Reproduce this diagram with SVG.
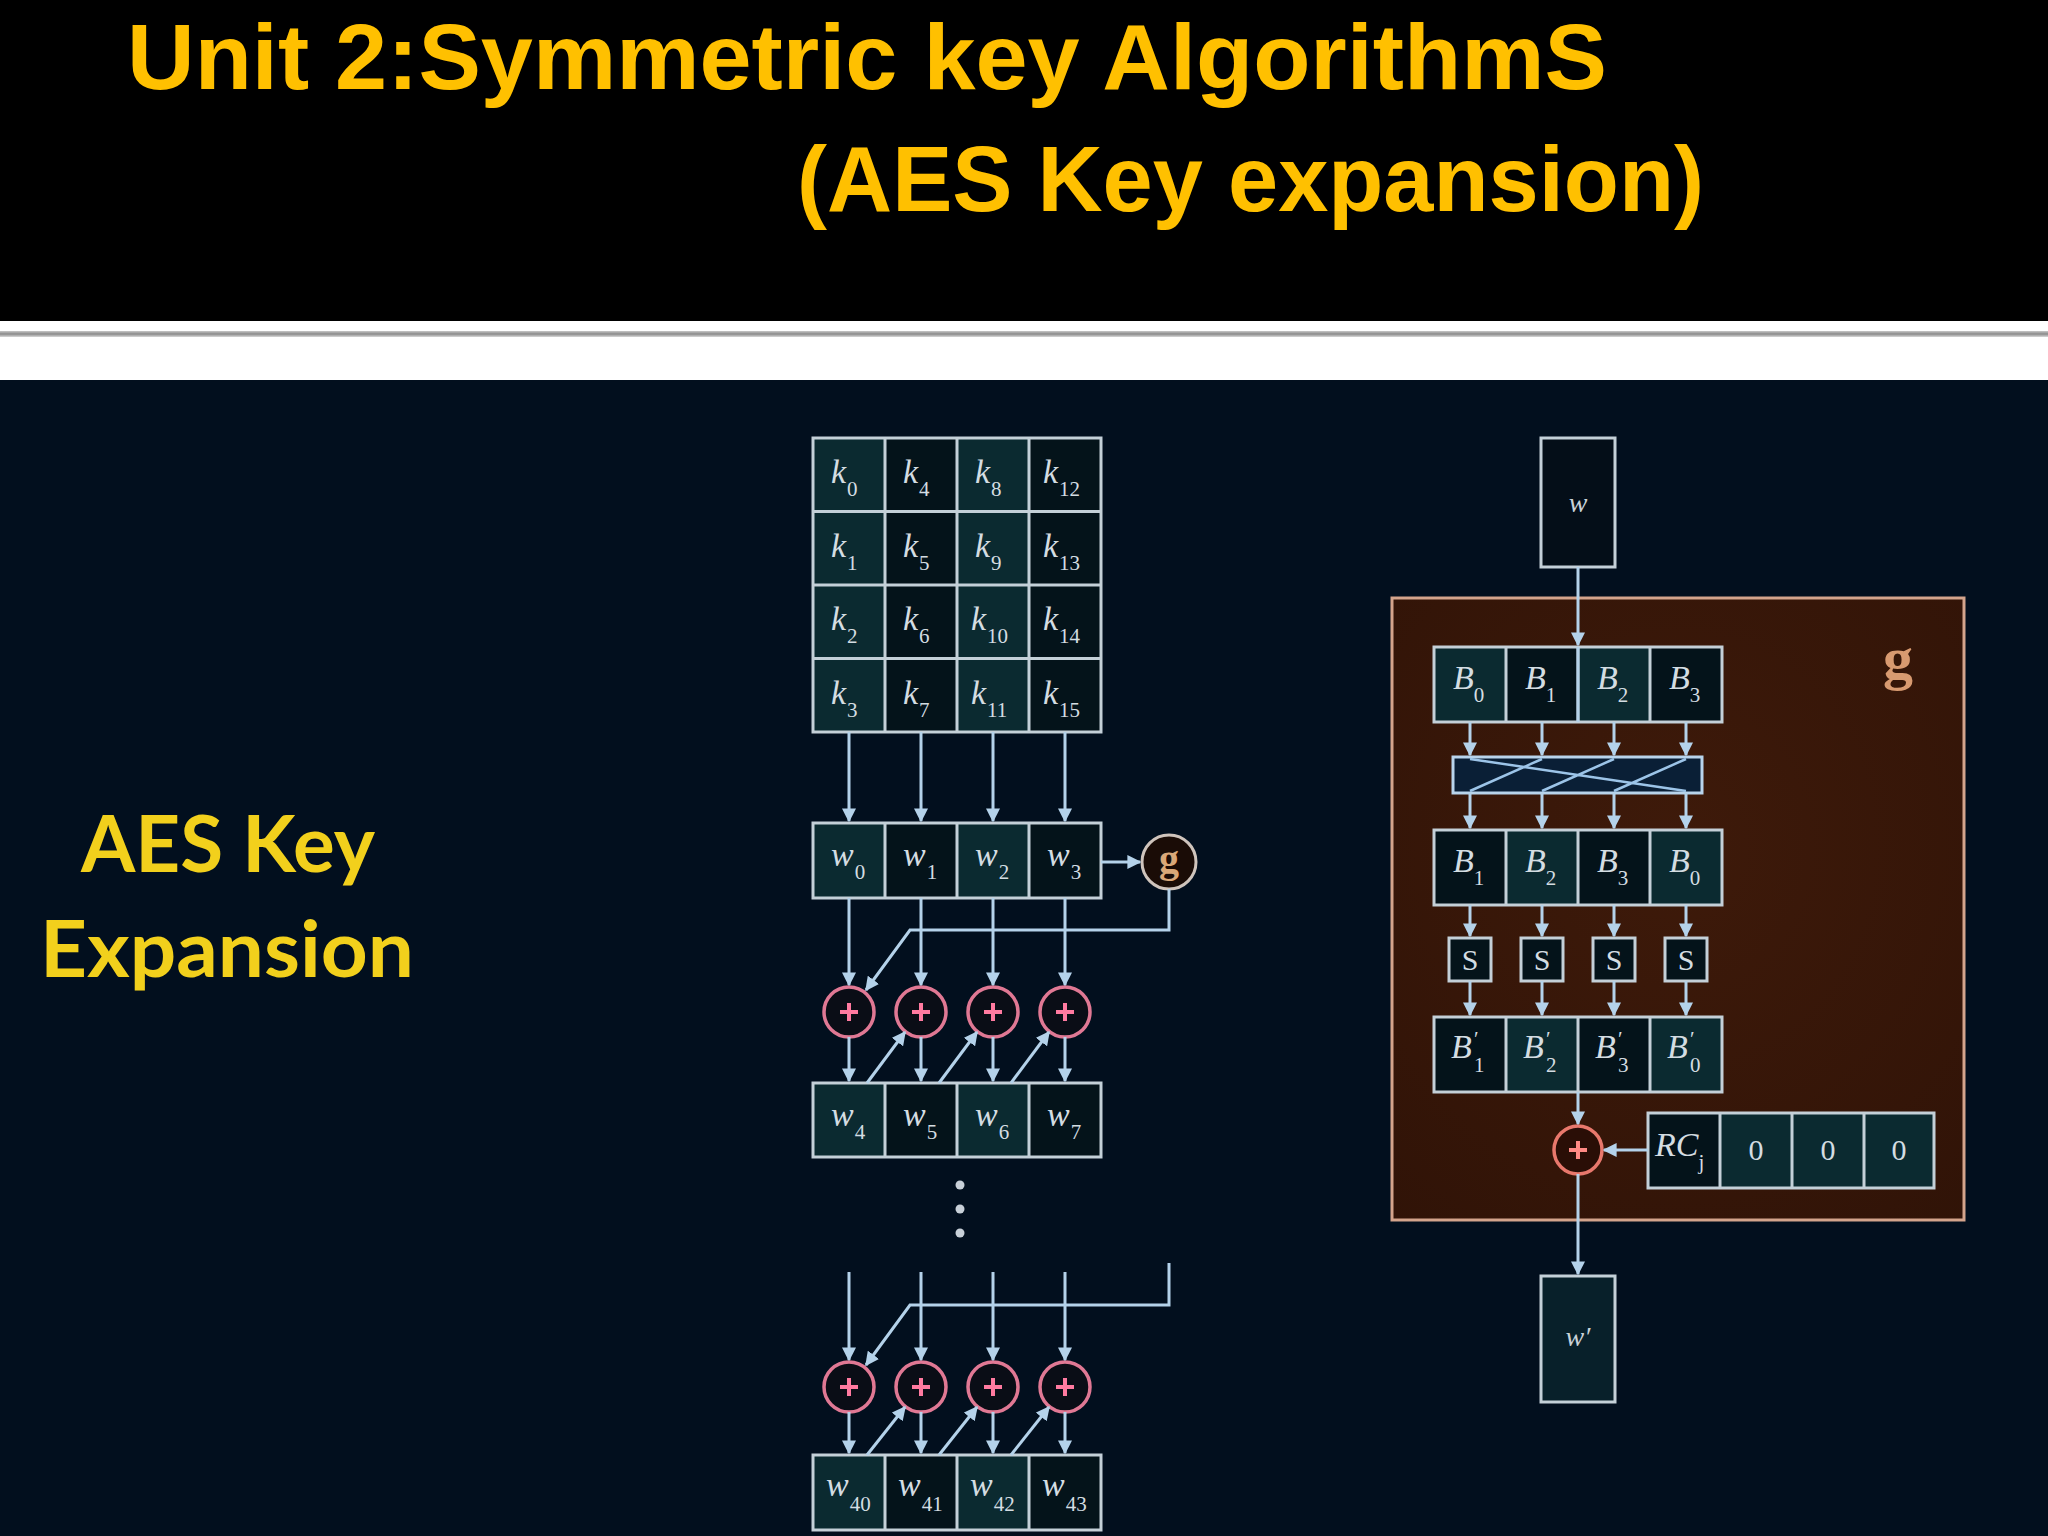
<svg xmlns="http://www.w3.org/2000/svg" width="2048" height="1536" viewBox="0 0 2048 1536">
<defs>
<marker id="arr" viewBox="0 0 10 10" refX="9" refY="5" markerWidth="14" markerHeight="14" markerUnits="userSpaceOnUse" orient="auto">
<path d="M0,0 L10,5 L0,10 z" fill="#b4d2ea"/>
</marker>
<linearGradient id="rule" x1="0" y1="0" x2="0" y2="1">
<stop offset="0" stop-color="#c8c8c8"/><stop offset="0.5" stop-color="#8a8a8a"/><stop offset="1" stop-color="#d8d8d8"/>
</linearGradient>
<radialGradient id="gbg" cx="0.5" cy="0.4" r="0.8">
<stop offset="0" stop-color="#3e1a0a"/><stop offset="1" stop-color="#301307"/>
</radialGradient>
</defs>
<style>
.title{font-family:"Liberation Sans",Arial,sans-serif;font-weight:bold;font-size:93px;fill:#ffc000}
.side{font-family:Lato,"Open Sans",sans-serif;font-weight:bold;font-size:78px;fill:#f2d01c}
.cl{stroke:#c4d0d8;stroke-width:3;fill:none}
.teal{fill:#0b2a30}
.dark{fill:#04131a}
.m{font-family:"Liberation Serif",serif;font-style:italic;font-size:34px;fill:#d4dde2}
.s{font-family:"Liberation Serif",serif;font-style:normal;font-size:21px;fill:#d4dde2}
.u{font-family:"Liberation Serif",serif;font-size:30px;fill:#d4dde2}
.ln{stroke:#b4d2ea;stroke-width:3;fill:none}
.ar{stroke:#b4d2ea;stroke-width:3;fill:none;marker-end:url(#arr)}
.xor{fill:#0a0d16;stroke:#e07894;stroke-width:3.5}
.plus{stroke:#ff7aa0;stroke-width:4}
</style>

<!-- background -->
<rect x="0" y="0" width="2048" height="1536" fill="#020f1e"/>
<rect x="0" y="0" width="2048" height="321" fill="#000000"/>
<rect x="0" y="321" width="2048" height="59" fill="#ffffff"/>
<rect x="0" y="331" width="2048" height="6" fill="url(#rule)"/>

<g id="title">
<text class="title" x="127" y="89" textLength="1480" lengthAdjust="spacingAndGlyphs">Unit 2:Symmetric key AlgorithmS</text>
<text class="title" x="797" y="211" textLength="907" lengthAdjust="spacingAndGlyphs">(AES Key expansion)</text>
</g>

<g id="side-label">
<text class="side" x="81" y="872" textLength="294" lengthAdjust="spacingAndGlyphs">AES Key</text>
<text class="side" x="40" y="977" textLength="374" lengthAdjust="spacingAndGlyphs">Expansion</text>
</g>

<!-- key matrix -->
<g id="key-matrix">
<rect class="teal" x="813" y="438" width="72" height="294"/>
<rect class="dark" x="885" y="438" width="72" height="294"/>
<rect class="teal" x="957" y="438" width="72" height="294"/>
<rect class="dark" x="1029" y="438" width="72" height="294"/>
<rect class="cl" x="813" y="438" width="288" height="294"/>
<path class="cl" d="M885,438V732M957,438V732M1029,438V732M813,511.5H1101M813,585H1101M813,658.5H1101"/>
<text class="m" x="831" y="483">k<tspan class="s" dx="1" dy="13">0</tspan></text>
<text class="m" x="903" y="483">k<tspan class="s" dx="1" dy="13">4</tspan></text>
<text class="m" x="975" y="483">k<tspan class="s" dx="1" dy="13">8</tspan></text>
<text class="m" x="1043" y="483">k<tspan class="s" dx="1" dy="13">12</tspan></text>
<text class="m" x="831" y="556.5">k<tspan class="s" dx="1" dy="13">1</tspan></text>
<text class="m" x="903" y="556.5">k<tspan class="s" dx="1" dy="13">5</tspan></text>
<text class="m" x="975" y="556.5">k<tspan class="s" dx="1" dy="13">9</tspan></text>
<text class="m" x="1043" y="556.5">k<tspan class="s" dx="1" dy="13">13</tspan></text>
<text class="m" x="831" y="630">k<tspan class="s" dx="1" dy="13">2</tspan></text>
<text class="m" x="903" y="630">k<tspan class="s" dx="1" dy="13">6</tspan></text>
<text class="m" x="971" y="630">k<tspan class="s" dx="1" dy="13">10</tspan></text>
<text class="m" x="1043" y="630">k<tspan class="s" dx="1" dy="13">14</tspan></text>
<text class="m" x="831" y="703.5">k<tspan class="s" dx="1" dy="13">3</tspan></text>
<text class="m" x="903" y="703.5">k<tspan class="s" dx="1" dy="13">7</tspan></text>
<text class="m" x="971" y="703.5">k<tspan class="s" dx="1" dy="13">11</tspan></text>
<text class="m" x="1043" y="703.5">k<tspan class="s" dx="1" dy="13">15</tspan></text>
</g>

<!-- w0..w3 -->
<g id="w-row-0">
<rect class="teal" x="813" y="823" width="72" height="75"/>
<rect class="dark" x="885" y="823" width="72" height="75"/>
<rect class="teal" x="957" y="823" width="72" height="75"/>
<rect class="dark" x="1029" y="823" width="72" height="75"/>
<rect class="cl" x="813" y="823" width="288" height="75"/>
<path class="cl" d="M885,823V898M957,823V898M1029,823V898"/>
<text class="m" x="831" y="866">w<tspan class="s" dx="1" dy="13">0</tspan></text>
<text class="m" x="903" y="866">w<tspan class="s" dx="1" dy="13">1</tspan></text>
<text class="m" x="975" y="866">w<tspan class="s" dx="1" dy="13">2</tspan></text>
<text class="m" x="1047" y="866">w<tspan class="s" dx="1" dy="13">3</tspan></text>
</g>

<g id="g-func-circle">
<circle cx="1169" cy="862" r="27" fill="#1a0c06" stroke="#cfc4bc" stroke-width="3"/>
<text x="1169" y="872" text-anchor="middle" font-family="Liberation Serif,serif" font-weight="bold" font-size="40" fill="#d9a878">g</text>
</g>

<g id="xor-row-1">
<circle class="xor" cx="849" cy="1012" r="25"/><path class="plus" d="M840,1012H858M849,1003V1021"/>
<circle class="xor" cx="921" cy="1012" r="25"/><path class="plus" d="M912,1012H930M921,1003V1021"/>
<circle class="xor" cx="993" cy="1012" r="25"/><path class="plus" d="M984,1012H1002M993,1003V1021"/>
<circle class="xor" cx="1065" cy="1012" r="25"/><path class="plus" d="M1056,1012H1074M1065,1003V1021"/>
</g>

<g id="w-row-1">
<rect class="teal" x="813" y="1083" width="72" height="74"/>
<rect class="dark" x="885" y="1083" width="72" height="74"/>
<rect class="teal" x="957" y="1083" width="72" height="74"/>
<rect class="dark" x="1029" y="1083" width="72" height="74"/>
<rect class="cl" x="813" y="1083" width="288" height="74"/>
<path class="cl" d="M885,1083V1157M957,1083V1157M1029,1083V1157"/>
<text class="m" x="831" y="1126">w<tspan class="s" dx="1" dy="13">4</tspan></text>
<text class="m" x="903" y="1126">w<tspan class="s" dx="1" dy="13">5</tspan></text>
<text class="m" x="975" y="1126">w<tspan class="s" dx="1" dy="13">6</tspan></text>
<text class="m" x="1047" y="1126">w<tspan class="s" dx="1" dy="13">7</tspan></text>
</g>

<g id="ellipsis" fill="#c8d0d8">
<circle cx="960" cy="1185" r="4.5"/><circle cx="960" cy="1209" r="4.5"/><circle cx="960" cy="1233" r="4.5"/>
</g>

<g id="xor-row-10">
<circle class="xor" cx="849" cy="1387" r="25"/><path class="plus" d="M840,1387H858M849,1378V1396"/>
<circle class="xor" cx="921" cy="1387" r="25"/><path class="plus" d="M912,1387H930M921,1378V1396"/>
<circle class="xor" cx="993" cy="1387" r="25"/><path class="plus" d="M984,1387H1002M993,1378V1396"/>
<circle class="xor" cx="1065" cy="1387" r="25"/><path class="plus" d="M1056,1387H1074M1065,1378V1396"/>
</g>

<g id="w-row-10">
<rect class="teal" x="813" y="1455" width="72" height="75"/>
<rect class="dark" x="885" y="1455" width="72" height="75"/>
<rect class="teal" x="957" y="1455" width="72" height="75"/>
<rect class="dark" x="1029" y="1455" width="72" height="75"/>
<rect class="cl" x="813" y="1455" width="288" height="75"/>
<path class="cl" d="M885,1455V1530M957,1455V1530M1029,1455V1530"/>
<text class="m" x="826" y="1496">w<tspan class="s" dx="1" dy="15">40</tspan></text>
<text class="m" x="898" y="1496">w<tspan class="s" dx="1" dy="15">41</tspan></text>
<text class="m" x="970" y="1496">w<tspan class="s" dx="1" dy="15">42</tspan></text>
<text class="m" x="1042" y="1496">w<tspan class="s" dx="1" dy="15">43</tspan></text>
</g>

<!-- right: g function -->
<g id="w-input">
<rect x="1541" y="438" width="74" height="129" fill="#040e18" stroke="#c4d0d8" stroke-width="3"/>
<text x="1578" y="512" text-anchor="middle" font-family="Liberation Serif,serif" font-style="italic" font-size="28" fill="#c8d2d8">w</text>
</g>

<g id="g-box">
<rect x="1392" y="598" width="572" height="622" fill="url(#gbg)" stroke="#d4a48c" stroke-width="3"/>
<text x="1898" y="678" text-anchor="middle" font-family="Liberation Serif,serif" font-weight="bold" font-size="60" fill="#d89a70">g</text>
</g>

<g id="b-row">
<rect class="teal" x="1434" y="647" width="72" height="75"/>
<rect class="dark" x="1506" y="647" width="72" height="75"/>
<rect class="teal" x="1578" y="647" width="72" height="75"/>
<rect class="dark" x="1650" y="647" width="72" height="75"/>
<rect class="cl" x="1434" y="647" width="288" height="75"/>
<path class="cl" d="M1506,647V722M1578,647V722M1650,647V722"/>
<text class="m" x="1453" y="689">B<tspan class="s" dx="0" dy="13">0</tspan></text>
<text class="m" x="1525" y="689">B<tspan class="s" dx="0" dy="13">1</tspan></text>
<text class="m" x="1597" y="689">B<tspan class="s" dx="0" dy="13">2</tspan></text>
<text class="m" x="1669" y="689">B<tspan class="s" dx="0" dy="13">3</tspan></text>
</g>

<g id="rotate-box">
<rect x="1453" y="757" width="249" height="36" fill="#0a1f36" stroke="#b8d4ec" stroke-width="3"/>
<path d="M1470,759L1686,791M1542,759L1470,791M1614,759L1542,791M1686,759L1614,791" stroke="#9cc4e8" stroke-width="2.5" fill="none"/>
</g>

<g id="b-row-rotated">
<rect class="dark" x="1434" y="830" width="72" height="75"/>
<rect class="teal" x="1506" y="830" width="72" height="75"/>
<rect class="dark" x="1578" y="830" width="72" height="75"/>
<rect class="teal" x="1650" y="830" width="72" height="75"/>
<rect class="cl" x="1434" y="830" width="288" height="75"/>
<path class="cl" d="M1506,830V905M1578,830V905M1650,830V905"/>
<text class="m" x="1453" y="872">B<tspan class="s" dx="0" dy="13">1</tspan></text>
<text class="m" x="1525" y="872">B<tspan class="s" dx="0" dy="13">2</tspan></text>
<text class="m" x="1597" y="872">B<tspan class="s" dx="0" dy="13">3</tspan></text>
<text class="m" x="1669" y="872">B<tspan class="s" dx="0" dy="13">0</tspan></text>
</g>

<g id="s-boxes">
<rect class="dark" x="1449" y="938" width="42" height="43" stroke="#c4d0d8" stroke-width="3"/>
<rect class="dark" x="1521" y="938" width="42" height="43" stroke="#c4d0d8" stroke-width="3"/>
<rect class="dark" x="1593" y="938" width="42" height="43" stroke="#c4d0d8" stroke-width="3"/>
<rect class="dark" x="1665" y="938" width="42" height="43" stroke="#c4d0d8" stroke-width="3"/>
<text class="u" x="1470" y="970" text-anchor="middle">S</text>
<text class="u" x="1542" y="970" text-anchor="middle">S</text>
<text class="u" x="1614" y="970" text-anchor="middle">S</text>
<text class="u" x="1686" y="970" text-anchor="middle">S</text>
</g>

<g id="b-prime-row">
<rect class="dark" x="1434" y="1017" width="72" height="75"/>
<rect class="teal" x="1506" y="1017" width="72" height="75"/>
<rect class="dark" x="1578" y="1017" width="72" height="75"/>
<rect class="teal" x="1650" y="1017" width="72" height="75"/>
<rect class="cl" x="1434" y="1017" width="288" height="75"/>
<path class="cl" d="M1506,1017V1092M1578,1017V1092M1650,1017V1092"/>
<text class="m" x="1451" y="1058">B</text><text class="s" x="1474" y="1046">′</text><text class="s" x="1474" y="1072">1</text>
<text class="m" x="1523" y="1058">B</text><text class="s" x="1546" y="1046">′</text><text class="s" x="1546" y="1072">2</text>
<text class="m" x="1595" y="1058">B</text><text class="s" x="1618" y="1046">′</text><text class="s" x="1618" y="1072">3</text>
<text class="m" x="1667" y="1058">B</text><text class="s" x="1690" y="1046">′</text><text class="s" x="1690" y="1072">0</text>
</g>

<g id="g-xor">
<circle cx="1578" cy="1150" r="24" fill="#2a0e06" stroke="#e8786c" stroke-width="3.5"/>
<path d="M1569,1150H1587M1578,1141V1159" stroke="#ff8a84" stroke-width="4"/>
</g>

<g id="rc-row">
<rect class="dark" x="1648" y="1113" width="72" height="75"/>
<rect class="teal" x="1720" y="1113" width="214" height="75"/>
<rect class="cl" x="1648" y="1113" width="286" height="75"/>
<path class="cl" d="M1720,1113V1188M1792,1113V1188M1864,1113V1188"/>
<text class="m" x="1655" y="1156">RC<tspan class="s" dx="0" dy="13">j</tspan></text>
<text class="u" x="1756" y="1160" text-anchor="middle">0</text>
<text class="u" x="1828" y="1160" text-anchor="middle">0</text>
<text class="u" x="1899" y="1160" text-anchor="middle">0</text>
</g>

<g id="w-output">
<rect x="1541" y="1276" width="74" height="126" fill="#08202a" stroke="#c4d0d8" stroke-width="3"/>
<text x="1578" y="1346" text-anchor="middle" font-family="Liberation Serif,serif" font-style="italic" font-size="28" fill="#c8d2d8">w′</text>
</g>

<!-- connectors -->
<g id="connectors">
<path class="ar" d="M849,732V821"/>
<path class="ar" d="M921,732V821"/>
<path class="ar" d="M993,732V821"/>
<path class="ar" d="M1065,732V821"/>
<path class="ar" d="M1101,862H1140"/>
<path class="ar" d="M1169,889V930H910L866,990"/>
<path class="ar" d="M849,898V985"/>
<path class="ar" d="M921,898V985"/>
<path class="ar" d="M993,898V985"/>
<path class="ar" d="M1065,898V985"/>
<path class="ar" d="M849,1037V1081"/>
<path class="ar" d="M921,1037V1081"/>
<path class="ar" d="M993,1037V1081"/>
<path class="ar" d="M1065,1037V1081"/>
<path class="ar" d="M867,1083L905,1032"/>
<path class="ar" d="M939,1083L977,1032"/>
<path class="ar" d="M1011,1083L1049,1032"/>
<path class="ar" d="M849,1272V1360"/>
<path class="ar" d="M921,1272V1360"/>
<path class="ar" d="M993,1272V1360"/>
<path class="ar" d="M1065,1272V1360"/>
<path class="ar" d="M1169,1263V1305H910L866,1365"/>
<path class="ar" d="M849,1412V1453"/>
<path class="ar" d="M921,1412V1453"/>
<path class="ar" d="M993,1412V1453"/>
<path class="ar" d="M1065,1412V1453"/>
<path class="ar" d="M867,1455L905,1407"/>
<path class="ar" d="M939,1455L977,1407"/>
<path class="ar" d="M1011,1455L1049,1407"/>
<path class="ar" d="M1578,567V645"/>
<path class="ln" d="M1578,647V722"/>
<path class="ar" d="M1470,722V755"/>
<path class="ar" d="M1542,722V755"/>
<path class="ar" d="M1614,722V755"/>
<path class="ar" d="M1686,722V755"/>
<path class="ar" d="M1470,793V828"/>
<path class="ar" d="M1542,793V828"/>
<path class="ar" d="M1614,793V828"/>
<path class="ar" d="M1686,793V828"/>
<path class="ar" d="M1470,905V936"/>
<path class="ar" d="M1542,905V936"/>
<path class="ar" d="M1614,905V936"/>
<path class="ar" d="M1686,905V936"/>
<path class="ar" d="M1470,981V1015"/>
<path class="ar" d="M1542,981V1015"/>
<path class="ar" d="M1614,981V1015"/>
<path class="ar" d="M1686,981V1015"/>
<path class="ar" d="M1578,1092V1124"/>
<path class="ar" d="M1648,1150H1604"/>
<path class="ar" d="M1578,1174V1274"/>
</g>
</svg>
